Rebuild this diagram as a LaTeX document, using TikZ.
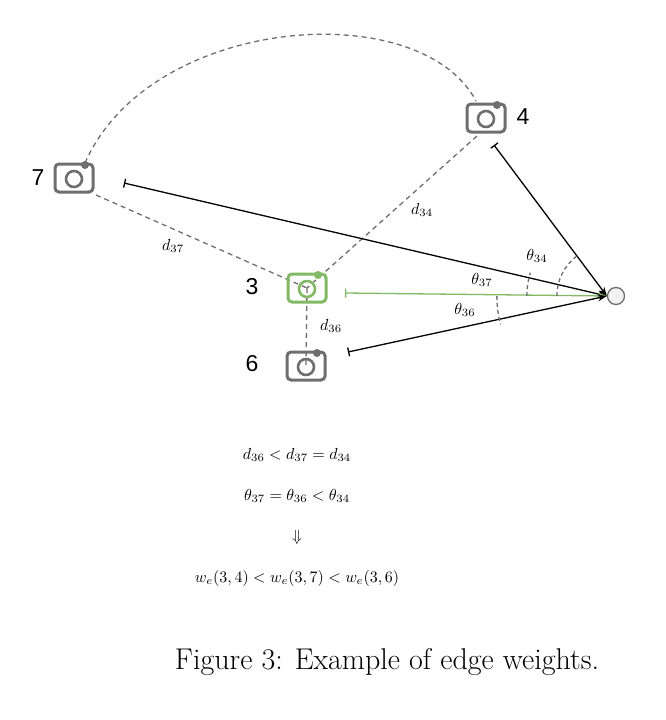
\documentclass[tikz,border=0pt]{standalone}
\usepackage{fontspec}
\newfontfamily\sff{Liberation Sans}
\usetikzlibrary{arrows.meta}
\definecolor{cg}{RGB}{110,110,110}
\definecolor{gr}{RGB}{130,185,100}
\begin{document}
\begin{tikzpicture}[x=1pt,y=-1pt,
  dsh/.style={cg,line width=1.3pt,dash pattern=on 5pt off 4pt},
  ray/.style={line width=1.3pt,{Bar[width=9pt]}-{Stealth[length=9pt,open]}},
  lab/.style={inner sep=1pt,scale=1.6,transform shape},
  num/.style={font=\sff\fontsize{23}{26}\selectfont},
  cam/.pic={\draw[line width=3pt,rounded corners=4pt,#1] (-19,-14) rectangle (19,14);
    \fill[#1] (11,-13) circle (4pt);
    \draw[line width=2.6pt,#1] (0,1) circle (8);}
]
\useasboundingbox (0,0) rectangle (666,720);
\coordinate (c3) at (307,288);
\coordinate (c6) at (306,366);
\coordinate (c7) at (74,178);
\coordinate (c4) at (486,118);
\node[circle,draw=cg,fill=gray!10,line width=1.3pt,minimum size=17pt,inner sep=0] (t) at (616,296) {};
% dashed connections
\draw[dsh] (85,163) .. controls (150,15) and (420,-5) .. (476,101);
\draw[dsh] (96,195) -- (c3);
\draw[dsh] (477,136) -- (c3);
\draw[dsh] (c3) -- (c6);
% rays
\coordinate (s4) at (494,145);
\coordinate (s7) at (124,183);
\coordinate (s3) at (345,293);
\coordinate (s6) at (348,352);
\draw[ray] (s4) -- (t.west);
\draw[ray] (s7) -- (t.west);
\draw[ray,gr] (s3) -- (t.west);
\draw[ray] (s6) -- (t.west);
% angle arcs
\begin{scope}[shift={(t.west)}]
\draw[dsh,dash pattern=on 4pt off 3pt] (180:50) arc[start angle=180,end angle=233,radius=50];
\draw[dsh,dash pattern=on 4pt off 3pt] (180:80) arc[start angle=180,end angle=197,radius=80];
\draw[dsh,dash pattern=on 4pt off 3pt] (180:110) arc[start angle=180,end angle=165,radius=110];
\end{scope}
\pic at (c7) {cam=cg};
\pic at (c4) {cam=cg};
\pic at (c6) {cam=cg};
\pic at (c3) {cam=gr};
\node[num] (n7) at (38,178) {7};
\node[num] (n4) at (523,117) {4};
\node[num] (n3) at (252,287) {3};
\node[num] (n6) at (252,364) {6};
\node[lab] (d34) at (422,210) {$d_{34}$};
\node[lab] (d37) at (173,246) {$d_{37}$};
\node[lab] (d36) at (331,326) {$d_{36}$};
\node[lab] (t34) at (537,256) {$\theta_{34}$};
\node[lab] (t37) at (482,280) {$\theta_{37}$};
\node[lab] (t36) at (465,310) {$\theta_{36}$};
\node[lab] (e1) at (297,455) {$d_{36}<d_{37}=d_{34}$};
\node[lab] (e2) at (297,496) {$\theta_{37}=\theta_{36}<\theta_{34}$};
\node[lab] (e3) at (297,537) {$\Downarrow$};
\node[lab] (e4) at (297,578) {$w_e(3,4)<w_e(3,7)<w_e(3,6)$};
\node[font=\fontsize{30}{34}\selectfont] (cap) at (387,662) {Figure 3: Example of edge weights.};
\end{tikzpicture}
\end{document}
